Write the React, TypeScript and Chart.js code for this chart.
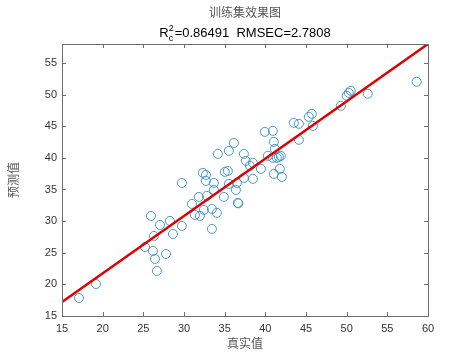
import React, { useEffect, useRef } from "react";
import { Chart, registerables } from "chart.js";

Chart.register(...registerables);

const actualValues = [
  17.09, 19.18, 25.2, 25.93, 26.18, 26.3, 26.43, 26.67, 27.04, 27.78,
  28.27, 28.64, 29.74, 29.74, 30.97, 31.34, 31.83, 31.95, 32.32, 32.69,
  32.44, 32.69, 32.81, 33.43, 33.43, 33.67, 33.67, 34.04, 34.16, 34.9,
  35.02, 35.39, 35.52, 35.52, 36.13, 36.38, 36.5, 36.62, 36.68, 37.36,
  37.36, 37.6, 38.1, 38.46, 38.46, 39.45, 39.94, 40.31, 40.92, 40.92,
  41.04, 41.04, 41.17, 41.41, 41.66, 41.9, 41.78, 42.03, 43.5, 44.12,
  44.12, 45.34, 45.71, 45.84, 49.28, 50.01, 50.26, 50.5, 52.59, 58.61,
];
const predictedValues = [
  17.85, 20.06, 25.92, 30.82, 25.28, 27.66, 24.02, 22.12, 29.4, 24.81,
  30.03, 27.97, 36.04, 29.24, 32.72, 30.98, 33.83, 30.82, 37.63, 37.31,
  31.77, 36.36, 33.99, 28.77, 31.93, 36.04, 34.94, 31.3, 40.63, 33.83,
  37.78, 37.94, 41.11, 35.89, 42.37, 34.94, 36.04, 32.88, 32.8, 40.63,
  36.84, 39.53, 38.73, 39.21, 36.68, 38.26, 44.11, 40.32, 44.27, 40.0,
  42.53, 37.47, 41.42, 40.0, 40.16, 40.32, 38.26, 36.99, 45.54, 45.38,
  42.85, 46.49, 46.96, 45.06, 48.23, 49.81, 50.28, 50.6, 50.13, 52.03,
];
const fitLineX = [15, 60];
const fitLineY = [17.2, 58.0];

const xTickMin = 15;
const xTickMax = 60;
const yTickMin = 15;
const yTickMax = 58;
const tickStep = 5;

const titleText = "训练集效果图";
const metricR2 = "=0.86491";
const metricRmse = "RMSEC=2.7808";
const xAxisTitle = "真实值";
const yAxisTitle = "预测值";

const CJK = '"Noto Sans CJK SC", sans-serif';
const LATIN = '"Liberation Sans", Arial, sans-serif';

const boxPlugin = {
  id: "boxTicks",
  afterDraw(chart: any) {
    const { ctx, chartArea } = chart;
    const { left, right, top, bottom } = chartArea;
    ctx.save();
    ctx.strokeStyle = "#6e6e6e";
    ctx.lineWidth = 1;
    ctx.strokeRect(Math.round(left) + 0.5, Math.round(top) + 0.5, Math.round(right - left), Math.round(bottom - top));
    const tl = 4;
    const xs = chart.scales.x;
    const ys = chart.scales.y;
    ctx.beginPath();
    xs.ticks.forEach((t: any) => {
      const px = Math.round(xs.getPixelForValue(t.value)) + 0.5;
      ctx.moveTo(px, bottom);
      ctx.lineTo(px, bottom - tl);
      ctx.moveTo(px, top);
      ctx.lineTo(px, top + tl);
    });
    ys.ticks.forEach((t: any) => {
      const py = Math.round(ys.getPixelForValue(t.value)) + 0.5;
      ctx.moveTo(left, py);
      ctx.lineTo(left + tl, py);
      ctx.moveTo(right, py);
      ctx.lineTo(right - tl, py);
    });
    ctx.stroke();

    // Titles
    const cx = (left + right) / 2;
    ctx.fillStyle = "#555555";
    ctx.font = `12px ${CJK}`;
    ctx.textAlign = "center";
    ctx.textBaseline = "middle";
    ctx.fillText(titleText, cx, 12);

    const mainFont = `13px ${LATIN}`;
    const smallFont = `9px ${LATIN}`;
    const rest = metricR2 + "  " + metricRmse;
    ctx.font = mainFont;
    const wR = ctx.measureText("R").width;
    const wRest = ctx.measureText(rest).width;
    ctx.font = smallFont;
    const wS = Math.max(ctx.measureText("2").width, ctx.measureText("c").width);
    const total = wR + wS + 1 + wRest;
    let x0 = cx - total / 2;
    const base = 37;
    ctx.fillStyle = "#000000";
    ctx.textAlign = "left";
    ctx.textBaseline = "alphabetic";
    ctx.font = mainFont;
    ctx.fillText("R", x0, base);
    x0 += wR;
    ctx.font = smallFont;
    ctx.fillText("2", x0, base - 6);
    ctx.fillText("c", x0, base + 4);
    x0 += wS + 1;
    ctx.font = mainFont;
    ctx.fillText(rest, x0, base);
    ctx.restore();
  },
};

export default function App() {
  const ref = useRef<HTMLCanvasElement>(null);
  useEffect(() => {
    if (!ref.current) return;
    const points = actualValues.map((v, i) => ({ x: v, y: predictedValues[i] }));
    const line = fitLineX.map((v, i) => ({ x: v, y: fitLineY[i] }));
    const chart = new Chart(ref.current, {
      type: "scatter",
      data: {
        datasets: [
          {
            data: line,
            showLine: true,
            borderColor: "#dd0000",
            borderWidth: 2.5,
            pointRadius: 0,
            fill: false,
          },
          {
            data: points,
            pointStyle: "circle",
            pointRadius: 4.5,
            borderWidth: 0.9,
            borderColor: "#3a8cc4",
            backgroundColor: "rgba(0,0,0,0)",
          },
        ],
      },
      options: {
        responsive: true,
        maintainAspectRatio: false,
        animation: false,
        layout: { padding: { top: 44, right: 46, left: 0, bottom: 0 } },
        plugins: { legend: { display: false }, tooltip: { enabled: false }, title: { display: false } },
        scales: {
          x: {
            type: "linear",
            min: xTickMin,
            max: xTickMax,
            border: { display: false },
            grid: { display: false, drawTicks: false },
            ticks: {
              stepSize: tickStep,
              color: "#333333",
              padding: 6,
              maxRotation: 0,
              font: { family: LATIN, size: 11 },
            },
            title: {
              display: true,
              text: xAxisTitle,
              color: "#555555",
              font: { family: CJK, size: 12 },
              padding: { top: 0, bottom: 4 },
            },
            afterFit: (s: any) => {
              s.height = 39;
            },
          },
          y: {
            type: "linear",
            min: yTickMin,
            max: yTickMax,
            border: { display: false },
            grid: { display: false, drawTicks: false },
            ticks: {
              stepSize: tickStep,
              includeBounds: false,
              color: "#333333",
              padding: 5,
              font: { family: LATIN, size: 11 },
            },
            title: {
              display: true,
              text: yAxisTitle,
              color: "#555555",
              font: { family: CJK, size: 12 },
              padding: { top: 6, bottom: 0 },
            },
            afterFit: (s: any) => {
              s.width = 62;
            },
          },
        },
      },
      plugins: [boxPlugin],
    });
    return () => chart.destroy();
  }, []);
  return (
    <div style={{ position: "absolute", left: 0, top: 0, width: 474, height: 355, background: "#fff" }}>
      <canvas ref={ref} />
    </div>
  );
}
